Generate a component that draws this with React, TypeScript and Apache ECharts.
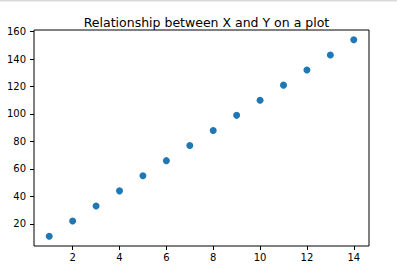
import React, { useEffect, useRef } from "react";
import * as echarts from "echarts";

const xValues = [1, 2, 3, 4, 5, 6, 7, 8, 9, 10, 11, 12, 13, 14];
const yValues = [11, 22, 33, 44, 55, 66, 77, 88, 99, 110, 121, 132, 143, 154];
const xTicks = [2, 4, 6, 8, 10, 12, 14];
const yTicks = [20, 40, 60, 80, 100, 120, 140, 160];
const title = "Relationship between X and Y on a plot";

export default function App() {
  const ref = useRef<HTMLDivElement>(null);
  useEffect(() => {
    document.body.style.margin = "0";
    const chart = echarts.init(ref.current!, null, { renderer: "svg" });
    const font = "DejaVu Sans";
    chart.setOption({
      animation: false,
      backgroundColor: "#fff",
      title: {
        text: title,
        left: 201.5,
        textAlign: "center",
        top: 11,
        textStyle: { fontFamily: font, fontSize: 12.5, fontWeight: "normal", color: "#000" },
      },
      graphic: [
        {
          type: "rect",
          shape: { x: 0, y: 0, width: 397, height: 1.5 },
          style: { fill: "#d9d9d9" },
        },
      ],
      grid: {
        left: 34,
        right: 28,
        top: 30,
        bottom: 27,
        show: true,
        borderColor: "#000",
        borderWidth: 1,
        backgroundColor: "transparent",
      },
      xAxis: {
        type: "value",
        min: 0.35,
        max: 14.65,
        splitLine: { show: false },
        axisLine: { show: false },
        axisTick: { show: true, length: 4, customValues: xTicks, lineStyle: { color: "#000" } },
        axisLabel: {
          customValues: xTicks,
          margin: 6,
          fontFamily: font,
          fontSize: 10,
          color: "#000",
        },
      },
      yAxis: {
        type: "value",
        min: 3.85,
        max: 161.15,
        splitLine: { show: false },
        axisLine: { show: false },
        axisTick: { show: true, length: 4, customValues: yTicks, lineStyle: { color: "#000" } },
        axisLabel: {
          customValues: yTicks,
          margin: 8,
          fontFamily: font,
          fontSize: 10,
          color: "#000",
        },
      },
      series: [
        {
          type: "scatter",
          data: xValues.map((x, i) => [x, yValues[i]]),
          symbolSize: 7,
          itemStyle: { color: "#1f77b4", opacity: 1 },
        },
      ],
    });
    return () => chart.dispose();
  }, []);
  return <div ref={ref} style={{ width: 397, height: 273 }} />;
}
